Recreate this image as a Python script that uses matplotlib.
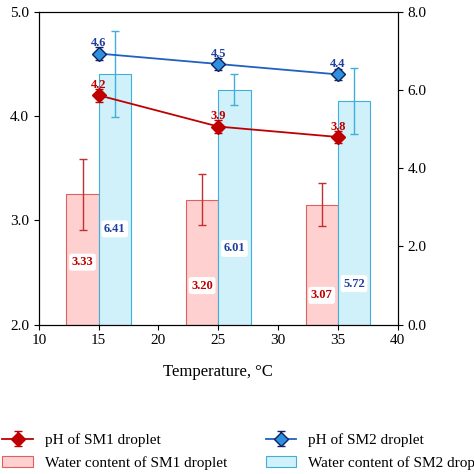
import numpy as np
import matplotlib.pyplot as plt

plt.rcParams['font.family'] = ['Liberation Serif', 'DejaVu Serif']

temps = [15, 25, 35]
ph_sm1 = [4.2, 3.9, 3.8]
ph_sm1_err = [0.06, 0.06, 0.06]
ph_sm2 = [4.6, 4.5, 4.4]
ph_sm2_err = [0.06, 0.06, 0.05]
wc_sm1 = [3.33, 3.20, 3.07]
wc_sm1_err = [0.9, 0.65, 0.55]
wc_sm2 = [6.41, 6.01, 5.72]
wc_sm2_err = [1.1, 0.4, 0.85]
wc_sm1_lbl_y = [1.6, 1.0, 0.75]
wc_sm2_lbl_y = [2.45, 1.95, 1.05]

red = '#c00000'
blue = '#1f3f9f'

fig = plt.figure(figsize=(4.74, 4.74), dpi=100)
ax = fig.add_axes([0.082, 0.315, 0.757, 0.66])
ax2 = ax.twinx()

w = 2.7
x = np.array(temps)
ax2.bar(x - w / 2, wc_sm1, w, color='#ffd0d0', edgecolor='#e06060', lw=0.8,
        yerr=wc_sm1_err, error_kw=dict(ecolor='#c03030', lw=1, capsize=3),
        label='Water content of SM1 droplet')
ax2.bar(x + w / 2, wc_sm2, w, color='#d0f0fa', edgecolor='#40b0d8', lw=0.8,
        yerr=wc_sm2_err, error_kw=dict(ecolor='#40b0d8', lw=1, capsize=3),
        label='Water content of SM2 droplet')
for xi, v, ly in zip(x, wc_sm1, wc_sm1_lbl_y):
    ax2.text(xi - w / 2, ly, f'{v:.2f}', ha='center', va='center', color=red,
             fontsize=9, fontweight='bold',
             bbox=dict(boxstyle='round,pad=0.2', fc='white', ec='none'))
for xi, v, ly in zip(x, wc_sm2, wc_sm2_lbl_y):
    ax2.text(xi + w / 2, ly, f'{v:.2f}', ha='center', va='center', color=blue,
             fontsize=9, fontweight='bold',
             bbox=dict(boxstyle='round,pad=0.2', fc='white', ec='none'))
ax2.set_ylim(0, 8)
ax2.set_yticks(np.arange(0, 8.1, 2))
ax2.set_yticklabels([f'{t:.1f}' for t in np.arange(0, 8.1, 2)])

ax.set_zorder(ax2.get_zorder() + 1)
ax.patch.set_visible(False)
ax.errorbar(x, ph_sm1, yerr=ph_sm1_err, color=red, marker='D', ms=7,
            mec=red, mfc=red, capsize=3, lw=1.3, label='pH of SM1 droplet')
ax.errorbar(x, ph_sm2, yerr=ph_sm2_err, color='#2060c0', marker='D', ms=7,
            mec='#102060', mfc='#3090e0', ecolor='#102060', capsize=3, lw=1.3,
            label='pH of SM2 droplet')
for xi, v in zip(x, ph_sm1):
    ax.text(xi, v + 0.07, f'{v:.1f}', ha='center', color=red, fontsize=9, fontweight='bold')
for xi, v in zip(x, ph_sm2):
    ax.text(xi, v + 0.07, f'{v:.1f}', ha='center', color=blue, fontsize=9, fontweight='bold')
ax.set_ylim(2, 5)
ax.set_xlim(10, 40)
ax.set_yticks([2, 3, 4, 5])
ax.set_yticklabels(['2.0', '3.0', '4.0', '5.0'])
ax.set_xlabel('Temperature, °C', fontsize=12, labelpad=12)
for a in (ax, ax2):
    a.tick_params(labelsize=11, direction='out')

h1, l1 = ax.get_legend_handles_labels()
h2, l2 = ax2.get_legend_handles_labels()
fig.legend([h1[0], h2[0], h1[1], h2[1]], [l1[0], l2[0], l1[1], l2[1]],
           loc='upper center', bbox_to_anchor=(0.52, 0.115), ncol=2,
           frameon=False, fontsize=11, columnspacing=2.5, labelspacing=0.6)

fig.savefig('out.png', dpi=100)
